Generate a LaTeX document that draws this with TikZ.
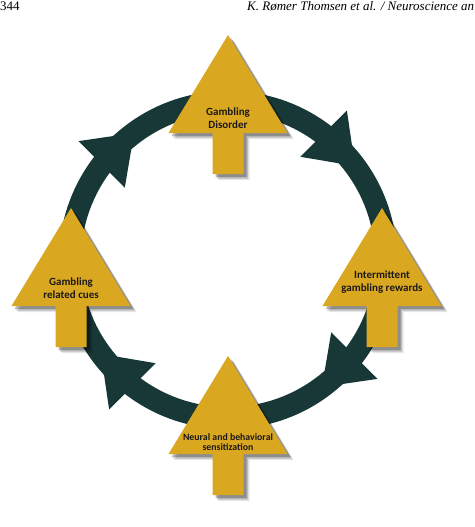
\documentclass[tikz,border=0pt]{standalone}
\usepackage{fontspec}
\setmainfont{Liberation Serif}
\newfontfamily\labelfont{Carlito}
\definecolor{ringgreen}{RGB}{24,56,55}
\definecolor{gold}{RGB}{218,168,32}
\definecolor{labelgray}{RGB}{28,24,24}

\begin{document}
\begin{tikzpicture}[x=1pt, y=-1pt,
  ringband/.style={draw=ringgreen, line width=22pt},
  ringhead/.style={fill=ringgreen},
  blockarrow/.style={fill=gold},
  blockshadow/.style={fill=black, fill opacity=#1},
  cycletext/.style={align=center, text=labelgray, inner sep=0pt,
    font=\labelfont\bfseries\fontsize{11}{13}\selectfont}]

  \useasboundingbox (0,0) rectangle (474,527);

  % running head
  \node[anchor=base west, inner sep=0pt, font=\fontsize{13}{15}\selectfont] (page) at (0,11) {344};
  \node[anchor=base west, inner sep=0pt, font=\itshape\fontsize{13}{15}\selectfont] (journal) at (247,11) {K. Rømer Thomsen et al. / Neuroscience an};

  % the cycle
  \begin{scope}[shift={(228,260)}]
    \draw[ringband] (0,0) circle[radius=158pt];
    \foreach \m in {135,45,-45,-135}
      \fill[ringhead] (\m+10:126pt) -- (\m+6.5:191pt) -- (\m-8.5:158pt) -- cycle;
  \end{scope}

  % up arrows, apex at \ax/\ay
  \foreach \ax/\ay in {228/35, 71/208, 382/208, 228/356} {
    \foreach \d/\o in {6/.1, 4.5/.18, 3/.25}
      \fill[blockshadow=\o, shift={(\ax+\d,\ay+\d)}]
        (0,0) -- (59.5,98) -- (15.5,98) -- (15.5,139) -- (-15.5,139) -- (-15.5,98) -- (-59.5,98) -- cycle;
    \fill[blockarrow, shift={(\ax,\ay)}]
      (0,0) -- (59.5,98) -- (15.5,98) -- (15.5,139) -- (-15.5,139) -- (-15.5,98) -- (-59.5,98) -- cycle;
  }

  \node[cycletext] (disorder) at (228,118) {Gambling\\Disorder};
  \node[cycletext] (cues) at (71,288) {Gambling\\related cues};
  \node[cycletext] (rewards) at (382,282) {Intermittent\\gambling rewards};
  \node[cycletext, font=\labelfont\bfseries\fontsize{9.8}{10.5}\selectfont] (sensitization) at (228,442) {Neural and behavioral\\sensitization};
\end{tikzpicture}
\end{document}
